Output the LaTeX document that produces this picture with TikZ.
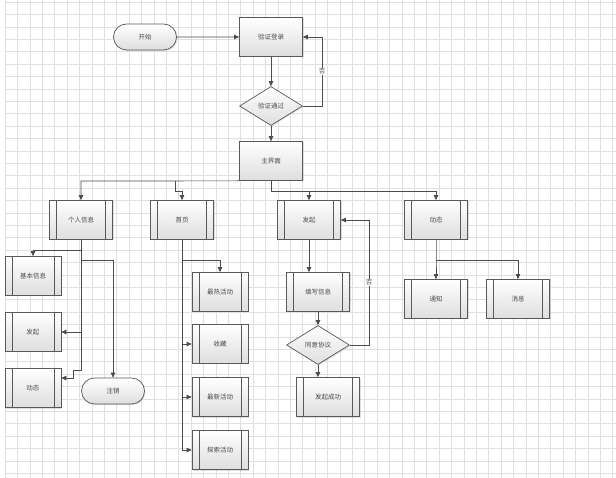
\documentclass[tikz,border=0pt]{standalone}
\usepackage{fontspec}
\newfontfamily\cjk{Noto Sans CJK SC}
\usetikzlibrary{shapes.geometric,arrows.meta,shadows}
\begin{document}
\begin{tikzpicture}[x=1pt,y=-1pt,
  every node/.style={font=\cjk\fontsize{6.5}{7}\selectfont,text=black!70},
  base/.style={draw=black!65,line width=0.7pt,top color=white,bottom color=black!13,drop shadow={shadow xshift=1pt,shadow yshift=-1pt,opacity=0.25}},
  box/.style={base,rectangle,minimum width=63pt,minimum height=39pt,inner sep=0pt},
  proc/.style={box,path picture={\draw[black!65,line width=0.6pt]
     ([xshift=7pt]path picture bounding box.north west)--([xshift=7pt]path picture bounding box.south west)
     ([xshift=-7pt]path picture bounding box.north east)--([xshift=-7pt]path picture bounding box.south east);}},
  sproc/.style={proc,minimum width=56pt},
  term/.style={base,rounded rectangle,minimum width=63pt,minimum height=26pt,inner sep=0pt},
  dec/.style={base,diamond,aspect=1.6,minimum width=63pt,minimum height=39pt,inner sep=0pt},
  arr/.style={draw=black!70,line width=0.7pt,-{Triangle[length=5pt,width=4.5pt]}},
  ln/.style={draw=black!70,line width=0.7pt}]
\useasboundingbox (0,0) rectangle (616,478);
\fill[white] (0,0) rectangle (616,478);
\foreach \i in {0,...,49} {\draw[black!12,line width=0.5pt] (5+12.4*\i,0)--(5+12.4*\i,478);}
\foreach \i in {0,...,38} {\draw[black!12,line width=0.5pt] (5,2+12.4*\i)--(616,2+12.4*\i);}
\usetikzlibrary{shapes.misc}
% nodes
\node[term] (start) at (145,37) {开始};
\node[box] (login) at (271,37) {验证登录};
\node[dec] (ok) at (271,106) {验证通过};
\node[box] (main) at (271,161) {主界面};
\node[proc] (info) at (81,220) {个人信息};
\node[proc] (home) at (182,220) {首页};
\node[proc] (launch) at (309,220) {发起};
\node[proc] (feed) at (436,220) {动态};
\node[sproc] (basic) at (33,276) {基本信息};
\node[sproc] (mylaunch) at (33,332) {发起};
\node[sproc] (myfeed) at (33,388) {动态};
\node[term] (logout) at (113,391) {注销};
\node[sproc] (hot) at (220,292) {最热活动};
\node[sproc] (fav) at (220,344) {收藏};
\node[sproc] (new) at (220,397) {最新活动};
\node[sproc] (explore) at (220,450) {探索活动};
\node[proc] (fill) at (318,292) {填写信息};
\node[dec] (agree) at (318,345) {同意协议};
\node[proc] (done) at (328,397) {发起成功};
\node[proc] (notice) at (436,299) {通知};
\node[proc] (msg) at (518,299) {消息};
% edges
\draw[arr] (start) -- (login);
\draw[arr] (login) -- (ok);
\draw[arr] (ok) -- (main);
\draw[arr] (ok.east) -| (322,37) node[pos=0.75,fill=white,inner sep=1pt] {否} -- (login.east);
\draw[arr] (main.south west) -- (81,181) -- (info.north);
\draw[arr] (175,181) -- (175,191) -| (home.north);
\draw[arr] (main.south) -- (271,191) -| (launch.north);
\draw[arr] (271,191) -| (feed.north);
\draw[arr] (info.south) -- (81,250) -| (basic.north);
\draw[arr] (81,250) -- (81,332) -- (mylaunch.east);
\draw[arr] (81,332) -- (81,370) -- (73,370) |- (myfeed.east |- 0,378);
\draw[arr] (81,260) -| (logout.north);
\draw[arr] (home.south) -- (182,260) -| (hot.north);
\draw[ln] (182,260) -- (182,450);
\draw[arr] (182,344) -- (fav.west);
\draw[arr] (182,397) -- (new.west);
\draw[arr] (182,450) -- (explore.west);
\draw[arr] (launch.south) -- (launch.south |- fill.north);
\draw[arr] (fill.south) -- (agree.north);
\draw[arr] (agree.south) -- (agree.south |- done.north);
\draw[arr] (agree.east) -| (369,220) node[pos=0.75,fill=white,inner sep=1pt] {否} -- (launch.east);
\draw[arr] (feed.south) -- (436,260) -- (notice.north);
\draw[arr] (436,260) -| (msg.north);
\end{tikzpicture}
\end{document}
